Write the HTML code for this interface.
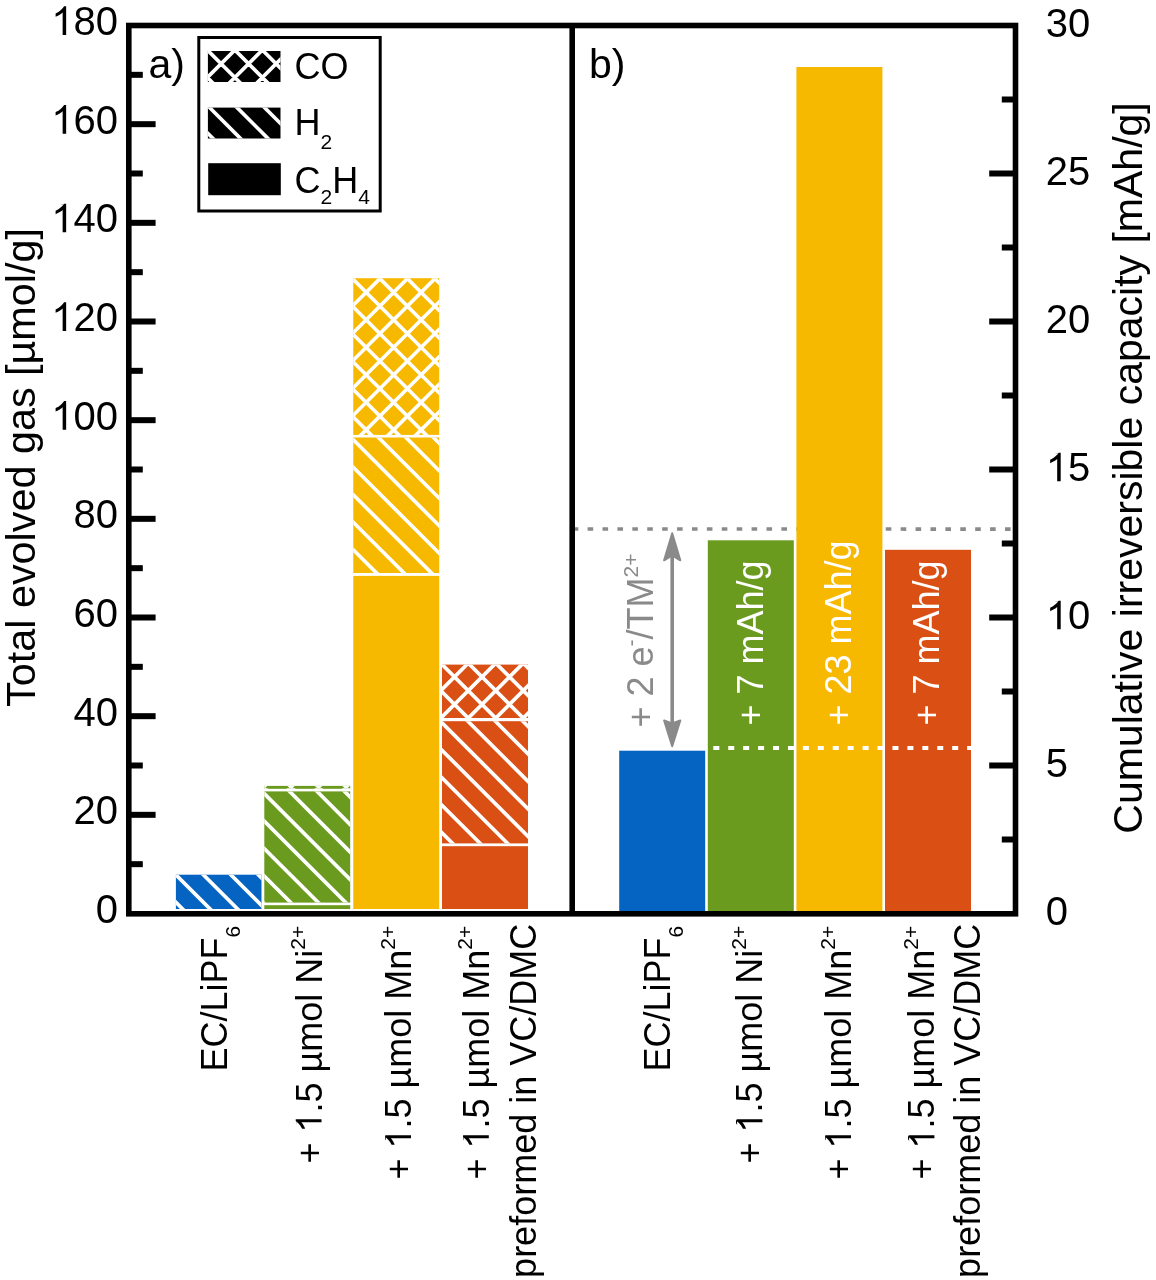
<!DOCTYPE html><html><head><meta charset="utf-8"><style>html,body{margin:0;padding:0;background:#fff;width:1156px;height:1280px;overflow:hidden;position:relative}</style></head><body><svg width="1156" height="1280" viewBox="0 0 1156 1280" style="position:absolute;left:0;top:0;will-change:transform">
<rect width="1156" height="1280" fill="#fff"/>
<line x1="572.7" y1="529.0" x2="1012" y2="529.1" stroke="#8a8a8a" stroke-width="3.6" stroke-dasharray="5.6 9.307"/>
<clipPath id="cl1"><rect x="175.90" y="874.70" width="85.60" height="34.30"/></clipPath><rect x="175.90" y="874.70" width="85.60" height="34.30" fill="#0563c1"/><path d="M88.30 869.70L132.60 914.00M115.80 869.70L160.10 914.00M143.30 869.70L187.60 914.00M170.80 869.70L215.10 914.00M198.30 869.70L242.60 914.00M225.80 869.70L270.10 914.00M253.30 869.70L297.60 914.00M280.80 869.70L325.10 914.00" stroke="#fff" stroke-width="3.7" fill="none" clip-path="url(#cl1)"/>
<clipPath id="cl2"><rect x="264.30" y="905.20" width="85.90" height="3.80"/></clipPath><rect x="264.30" y="905.20" width="85.90" height="3.80" fill="#6a9b1f"/>
<clipPath id="cl3"><rect x="264.30" y="791.40" width="85.90" height="111.20"/></clipPath><rect x="264.30" y="791.40" width="85.90" height="111.20" fill="#6a9b1f"/><path d="M119.60 786.40L240.80 907.60M147.10 786.40L268.30 907.60M174.60 786.40L295.80 907.60M202.10 786.40L323.30 907.60M229.60 786.40L350.80 907.60M257.10 786.40L378.30 907.60M284.60 786.40L405.80 907.60M312.10 786.40L433.30 907.60M339.60 786.40L460.80 907.60M367.10 786.40L488.30 907.60" stroke="#fff" stroke-width="3.7" fill="none" clip-path="url(#cl3)"/>
<clipPath id="cl4"><rect x="264.30" y="785.90" width="85.90" height="2.90"/></clipPath><rect x="264.30" y="785.90" width="85.90" height="2.90" fill="#6a9b1f"/><path d="M202.50 780.90L215.40 793.80M230.00 780.90L242.90 793.80M257.50 780.90L270.40 793.80M285.00 780.90L297.90 793.80M312.50 780.90L325.40 793.80M340.00 780.90L352.90 793.80M367.50 780.90L380.40 793.80M214.70 780.90L201.80 793.80M242.20 780.90L229.30 793.80M269.70 780.90L256.80 793.80M297.20 780.90L284.30 793.80M324.70 780.90L311.80 793.80M352.20 780.90L339.30 793.80M379.70 780.90L366.80 793.80" stroke="#fff" stroke-width="3.7" fill="none" clip-path="url(#cl4)"/>
<clipPath id="cl5"><rect x="353.30" y="575.90" width="85.90" height="333.10"/></clipPath><rect x="353.30" y="575.90" width="85.90" height="333.10" fill="#f7b800"/>
<clipPath id="cl6"><rect x="353.30" y="437.50" width="85.90" height="135.50"/></clipPath><rect x="353.30" y="437.50" width="85.90" height="135.50" fill="#f7b800"/><path d="M181.00 432.50L326.50 578.00M208.50 432.50L354.00 578.00M236.00 432.50L381.50 578.00M263.50 432.50L409.00 578.00M291.00 432.50L436.50 578.00M318.50 432.50L464.00 578.00M346.00 432.50L491.50 578.00M373.50 432.50L519.00 578.00M401.00 432.50L546.50 578.00M428.50 432.50L574.00 578.00M456.00 432.50L601.50 578.00" stroke="#fff" stroke-width="3.7" fill="none" clip-path="url(#cl6)"/>
<clipPath id="cl7"><rect x="353.30" y="278.20" width="85.90" height="156.70"/></clipPath><rect x="353.30" y="278.20" width="85.90" height="156.70" fill="#f7b800"/><path d="M154.45 273.20L321.15 439.90M181.95 273.20L348.65 439.90M209.45 273.20L376.15 439.90M236.95 273.20L403.65 439.90M264.45 273.20L431.15 439.90M291.95 273.20L458.65 439.90M319.45 273.20L486.15 439.90M346.95 273.20L513.65 439.90M374.45 273.20L541.15 439.90M401.95 273.20L568.65 439.90M429.45 273.20L596.15 439.90M456.95 273.20L623.65 439.90M330.30 273.20L163.60 439.90M357.80 273.20L191.10 439.90M385.30 273.20L218.60 439.90M412.80 273.20L246.10 439.90M440.30 273.20L273.60 439.90M467.80 273.20L301.10 439.90M495.30 273.20L328.60 439.90M522.80 273.20L356.10 439.90M550.30 273.20L383.60 439.90M577.80 273.20L411.10 439.90M605.30 273.20L438.60 439.90" stroke="#fff" stroke-width="3.7" fill="none" clip-path="url(#cl7)"/>
<clipPath id="cl8"><rect x="442.00" y="846.20" width="86.00" height="62.80"/></clipPath><rect x="442.00" y="846.20" width="86.00" height="62.80" fill="#d94f14"/>
<clipPath id="cl9"><rect x="442.00" y="721.20" width="86.00" height="122.20"/></clipPath><rect x="442.00" y="721.20" width="86.00" height="122.20" fill="#d94f14"/><path d="M270.40 716.20L402.60 848.40M297.90 716.20L430.10 848.40M325.40 716.20L457.60 848.40M352.90 716.20L485.10 848.40M380.40 716.20L512.60 848.40M407.90 716.20L540.10 848.40M435.40 716.20L567.60 848.40M462.90 716.20L595.10 848.40M490.40 716.20L622.60 848.40M517.90 716.20L650.10 848.40M545.40 716.20L677.60 848.40" stroke="#fff" stroke-width="3.7" fill="none" clip-path="url(#cl9)"/>
<clipPath id="cl10"><rect x="442.00" y="664.60" width="86.00" height="53.40"/></clipPath><rect x="442.00" y="664.60" width="86.00" height="53.40" fill="#d94f14"/><path d="M354.70 659.60L418.10 723.00M382.20 659.60L445.60 723.00M409.70 659.60L473.10 723.00M437.20 659.60L500.60 723.00M464.70 659.60L528.10 723.00M492.20 659.60L555.60 723.00M519.70 659.60L583.10 723.00M547.20 659.60L610.60 723.00M416.80 659.60L353.40 723.00M444.30 659.60L380.90 723.00M471.80 659.60L408.40 723.00M499.30 659.60L435.90 723.00M526.80 659.60L463.40 723.00M554.30 659.60L490.90 723.00M581.80 659.60L518.40 723.00M609.30 659.60L545.90 723.00" stroke="#fff" stroke-width="3.7" fill="none" clip-path="url(#cl10)"/>
<rect x="619.20" y="750.70" width="86" height="160.30" fill="#0563c1"/>
<rect x="707.80" y="540.30" width="86" height="370.70" fill="#6a9b1f"/>
<rect x="796.40" y="67.00" width="86" height="844.00" fill="#f7b800"/>
<rect x="885.00" y="549.80" width="86" height="361.20" fill="#d94f14"/>
<line x1="713.3" y1="748" x2="1012" y2="748" stroke="#fff" stroke-width="3.8" stroke-dasharray="6 8.93"/>
<line x1="672.2" y1="550" x2="672.2" y2="729" stroke="#8a8a8a" stroke-width="3.6"/>
<path d="M672.2 533.2 L680.3 560.3 L672.2 555.3 L664.1 560.3 Z" fill="#8a8a8a" stroke="#8a8a8a" stroke-width="2" stroke-linejoin="round"/>
<path d="M672.2 746.2 L680.3 720.5 L672.2 723.5 L664.1 720.5 Z" fill="#8a8a8a" stroke="#8a8a8a" stroke-width="2" stroke-linejoin="round"/>
<rect x="128.8" y="25.5" width="886.7" height="888.3" fill="none" stroke="#000" stroke-width="5.6"/>
<line x1="572.2" y1="25.5" x2="572.2" y2="913.8" stroke="#000" stroke-width="5.6"/>
<line x1="128.8" y1="864.17" x2="142.8" y2="864.17" stroke="#000" stroke-width="6"/>
<line x1="128.8" y1="814.83" x2="155.6" y2="814.83" stroke="#000" stroke-width="6"/>
<line x1="128.8" y1="765.50" x2="142.8" y2="765.50" stroke="#000" stroke-width="6"/>
<line x1="128.8" y1="716.17" x2="155.6" y2="716.17" stroke="#000" stroke-width="6"/>
<line x1="128.8" y1="666.83" x2="142.8" y2="666.83" stroke="#000" stroke-width="6"/>
<line x1="128.8" y1="617.50" x2="155.6" y2="617.50" stroke="#000" stroke-width="6"/>
<line x1="128.8" y1="568.17" x2="142.8" y2="568.17" stroke="#000" stroke-width="6"/>
<line x1="128.8" y1="518.83" x2="155.6" y2="518.83" stroke="#000" stroke-width="6"/>
<line x1="128.8" y1="469.50" x2="142.8" y2="469.50" stroke="#000" stroke-width="6"/>
<line x1="128.8" y1="420.17" x2="155.6" y2="420.17" stroke="#000" stroke-width="6"/>
<line x1="128.8" y1="370.83" x2="142.8" y2="370.83" stroke="#000" stroke-width="6"/>
<line x1="128.8" y1="321.50" x2="155.6" y2="321.50" stroke="#000" stroke-width="6"/>
<line x1="128.8" y1="272.17" x2="142.8" y2="272.17" stroke="#000" stroke-width="6"/>
<line x1="128.8" y1="222.83" x2="155.6" y2="222.83" stroke="#000" stroke-width="6"/>
<line x1="128.8" y1="173.50" x2="142.8" y2="173.50" stroke="#000" stroke-width="6"/>
<line x1="128.8" y1="124.17" x2="155.6" y2="124.17" stroke="#000" stroke-width="6"/>
<line x1="128.8" y1="74.83" x2="142.8" y2="74.83" stroke="#000" stroke-width="6"/>
<line x1="1015.5" y1="839.50" x2="1001.8" y2="839.50" stroke="#000" stroke-width="6"/>
<line x1="1015.5" y1="765.50" x2="989.2" y2="765.50" stroke="#000" stroke-width="6"/>
<line x1="1015.5" y1="691.50" x2="1001.8" y2="691.50" stroke="#000" stroke-width="6"/>
<line x1="1015.5" y1="617.50" x2="989.2" y2="617.50" stroke="#000" stroke-width="6"/>
<line x1="1015.5" y1="543.50" x2="1001.8" y2="543.50" stroke="#000" stroke-width="6"/>
<line x1="1015.5" y1="469.50" x2="989.2" y2="469.50" stroke="#000" stroke-width="6"/>
<line x1="1015.5" y1="395.50" x2="1001.8" y2="395.50" stroke="#000" stroke-width="6"/>
<line x1="1015.5" y1="321.50" x2="989.2" y2="321.50" stroke="#000" stroke-width="6"/>
<line x1="1015.5" y1="247.50" x2="1001.8" y2="247.50" stroke="#000" stroke-width="6"/>
<line x1="1015.5" y1="173.50" x2="989.2" y2="173.50" stroke="#000" stroke-width="6"/>
<line x1="1015.5" y1="99.50" x2="1001.8" y2="99.50" stroke="#000" stroke-width="6"/>
<text class="f1" x="118.0" y="923.00" font-family="Liberation Sans, sans-serif" font-size="40" text-anchor="end">0</text>
<text class="f1" x="118.0" y="824.33" font-family="Liberation Sans, sans-serif" font-size="40" text-anchor="end">20</text>
<text class="f1" x="118.0" y="725.67" font-family="Liberation Sans, sans-serif" font-size="40" text-anchor="end">40</text>
<text class="f1" x="118.0" y="627.00" font-family="Liberation Sans, sans-serif" font-size="40" text-anchor="end">60</text>
<text class="f1" x="118.0" y="528.33" font-family="Liberation Sans, sans-serif" font-size="40" text-anchor="end">80</text>
<text class="f1" x="118.0" y="429.67" font-family="Liberation Sans, sans-serif" font-size="40" text-anchor="end">100</text>
<text class="f1" x="118.0" y="331.00" font-family="Liberation Sans, sans-serif" font-size="40" text-anchor="end">120</text>
<text class="f1" x="118.0" y="232.33" font-family="Liberation Sans, sans-serif" font-size="40" text-anchor="end">140</text>
<text class="f1" x="118.0" y="133.67" font-family="Liberation Sans, sans-serif" font-size="40" text-anchor="end">160</text>
<text class="f1" x="118.0" y="35.00" font-family="Liberation Sans, sans-serif" font-size="40" text-anchor="end">180</text>
<text class="f1" x="1045.8" y="925.30" font-family="Liberation Sans, sans-serif" font-size="40">0</text>
<text class="f1" x="1045.8" y="777.30" font-family="Liberation Sans, sans-serif" font-size="40">5</text>
<text class="f1" x="1045.8" y="629.30" font-family="Liberation Sans, sans-serif" font-size="40">10</text>
<text class="f1" x="1045.8" y="481.30" font-family="Liberation Sans, sans-serif" font-size="40">15</text>
<text class="f1" x="1045.8" y="333.30" font-family="Liberation Sans, sans-serif" font-size="40">20</text>
<text class="f1" x="1045.8" y="185.30" font-family="Liberation Sans, sans-serif" font-size="40">25</text>
<text class="f1" x="1045.8" y="37.30" font-family="Liberation Sans, sans-serif" font-size="40">30</text>
<text transform="translate(35.2,706.9) rotate(-90)" font-family="Liberation Sans, sans-serif" font-size="41.35">Total evolved gas [µmol/g]</text>
<text transform="translate(1142,833.7) rotate(-90)" font-family="Liberation Sans, sans-serif" font-size="41">Cumulative irreversible capacity [mAh/g]</text>
<text x="148.5" y="78" font-family="Liberation Sans, sans-serif" font-size="41">a)</text>
<text x="589" y="78" font-family="Liberation Sans, sans-serif" font-size="41">b)</text>
<rect x="198.8" y="37.5" width="181.4" height="173.5" fill="#fff" stroke="#000" stroke-width="3"/>
<clipPath id="cl11"><rect x="207.90" y="51.00" width="72.60" height="31.00"/></clipPath><rect x="207.90" y="51.00" width="72.60" height="31.00" fill="#000"/><path d="M120.85 46.00L161.85 87.00M148.35 46.00L189.35 87.00M175.85 46.00L216.85 87.00M203.35 46.00L244.35 87.00M230.85 46.00L271.85 87.00M258.35 46.00L299.35 87.00M285.85 46.00L326.85 87.00M183.85 46.00L142.85 87.00M211.35 46.00L170.35 87.00M238.85 46.00L197.85 87.00M266.35 46.00L225.35 87.00M293.85 46.00L252.85 87.00M321.35 46.00L280.35 87.00" stroke="#fff" stroke-width="3.7" fill="none" clip-path="url(#cl11)"/>
<clipPath id="cl12"><rect x="207.90" y="107.60" width="72.60" height="30.90"/></clipPath><rect x="207.90" y="107.60" width="72.60" height="30.90" fill="#000"/><path d="M122.10 102.60L163.00 143.50M149.60 102.60L190.50 143.50M177.10 102.60L218.00 143.50M204.60 102.60L245.50 143.50M232.10 102.60L273.00 143.50M259.60 102.60L300.50 143.50M287.10 102.60L328.00 143.50" stroke="#fff" stroke-width="3.7" fill="none" clip-path="url(#cl12)"/>
<rect x="208.2" y="163.2" width="72.6" height="32" fill="#000"/>
<text x="294.6" y="79.3" font-family="Liberation Sans, sans-serif" font-size="36">CO</text>
<text x="294.5" y="134.7" font-family="Liberation Sans, sans-serif" font-size="36">H<tspan font-size="21" dy="13.8">2</tspan></text>
<text x="294.6" y="192.6" font-family="Liberation Sans, sans-serif" font-size="36">C<tspan font-size="21" dy="11">2</tspan><tspan dy="-11">H</tspan><tspan font-size="21" dy="11">4</tspan></text>
<text class="f1" transform="translate(226.50,925.8) rotate(-90)" font-family="Liberation Sans, sans-serif" font-size="36" text-anchor="end">EC/LiPF<tspan font-size="21" dy="13.2">6</tspan></text>
<text class="f1" transform="translate(321.50,925.8) rotate(-90)" font-family="Liberation Sans, sans-serif" font-size="36" text-anchor="end">+ 1.5 µmol Ni<tspan font-size="21" dy="-16.5">2+</tspan></text>
<text class="f1" transform="translate(411.00,925.8) rotate(-90)" font-family="Liberation Sans, sans-serif" font-size="36" text-anchor="end">+ 1.5 µmol Mn<tspan font-size="21" dy="-16.5">2+</tspan></text>
<text class="f1" transform="translate(488.80,925.8) rotate(-90)" font-family="Liberation Sans, sans-serif" font-size="36" text-anchor="end">+ 1.5 µmol Mn<tspan font-size="21" dy="-16.5">2+</tspan></text>
<text class="f1" transform="translate(535.60,923.8) rotate(-90)" font-family="Liberation Sans, sans-serif" font-size="36" text-anchor="end">preformed in VC/DMC</text>
<text class="f1" transform="translate(670.20,925.8) rotate(-90)" font-family="Liberation Sans, sans-serif" font-size="36" text-anchor="end">EC/LiPF<tspan font-size="21" dy="13.2">6</tspan></text>
<text class="f1" transform="translate(762.40,925.8) rotate(-90)" font-family="Liberation Sans, sans-serif" font-size="36" text-anchor="end">+ 1.5 µmol Ni<tspan font-size="21" dy="-16.5">2+</tspan></text>
<text class="f1" transform="translate(851.00,925.8) rotate(-90)" font-family="Liberation Sans, sans-serif" font-size="36" text-anchor="end">+ 1.5 µmol Mn<tspan font-size="21" dy="-16.5">2+</tspan></text>
<text class="f1" transform="translate(934.40,925.8) rotate(-90)" font-family="Liberation Sans, sans-serif" font-size="36" text-anchor="end">+ 1.5 µmol Mn<tspan font-size="21" dy="-16.5">2+</tspan></text>
<text class="f1" transform="translate(979.70,923.8) rotate(-90)" font-family="Liberation Sans, sans-serif" font-size="36" text-anchor="end">preformed in VC/DMC</text>
<text transform="translate(763.20,725.50) rotate(-90)" font-family="Liberation Sans, sans-serif" font-size="36" fill="#fff">+ 7 mAh/g</text>
<text transform="translate(850.50,725.50) rotate(-90)" font-family="Liberation Sans, sans-serif" font-size="36" fill="#fff">+ 23 mAh/g</text>
<text transform="translate(939.20,725.50) rotate(-90)" font-family="Liberation Sans, sans-serif" font-size="36" fill="#fff">+ 7 mAh/g</text>
<text transform="translate(653.00,727.60) rotate(-90)" font-family="Liberation Sans, sans-serif" font-size="36" fill="#8a8a8a">+ 2 e<tspan font-size="21" dy="-15.5">-</tspan><tspan dy="15.5">/TM</tspan><tspan font-size="21" dy="-15.5">2+</tspan></text>
<rect x="53.50" y="401.55" width="18.95" height="30.08" fill="#fff"/><path d="M66.15 429.67L62.64 429.67L62.64 407.27Q61.37 408.48 59.32 409.69Q57.29 410.90 55.61 411.51L55.61 408.11Q58.63 406.68 60.90 404.65Q63.16 402.62 64.10 401.04L66.15 401.04Z" fill="#000"/><rect x="53.50" y="302.88" width="18.95" height="30.08" fill="#fff"/><path d="M66.15 331.00L62.64 331.00L62.64 308.60Q61.37 309.81 59.32 311.02Q57.29 312.23 55.61 312.84L55.61 309.44Q58.63 308.01 60.90 305.98Q63.16 303.95 64.10 302.37L66.15 302.37Z" fill="#000"/><rect x="53.50" y="204.21" width="18.95" height="30.08" fill="#fff"/><path d="M66.15 232.33L62.64 232.33L62.64 209.93Q61.37 211.14 59.32 212.35Q57.29 213.56 55.61 214.17L55.61 210.77Q58.63 209.34 60.90 207.31Q63.16 205.28 64.10 203.70L66.15 203.70Z" fill="#000"/><rect x="53.50" y="105.54" width="18.95" height="30.08" fill="#fff"/><path d="M66.15 133.67L62.64 133.67L62.64 111.27Q61.37 112.48 59.32 113.69Q57.29 114.90 55.61 115.51L55.61 112.11Q58.63 110.68 60.90 108.65Q63.16 106.62 64.10 105.04L66.15 105.04Z" fill="#000"/><rect x="53.50" y="6.88" width="18.95" height="30.08" fill="#fff"/><path d="M66.15 35.00L62.64 35.00L62.64 12.60Q61.37 13.81 59.32 15.02Q57.29 16.23 55.61 16.84L55.61 13.44Q58.63 12.01 60.90 9.98Q63.16 7.95 64.10 6.37L66.15 6.37Z" fill="#000"/><rect x="1048.05" y="601.17" width="18.95" height="30.08" fill="#fff"/><path d="M1060.70 629.30L1057.19 629.30L1057.19 606.90Q1055.92 608.11 1053.87 609.32Q1051.84 610.53 1050.16 611.14L1050.16 607.74Q1053.18 606.31 1055.45 604.28Q1057.71 602.25 1058.65 600.67L1060.70 600.67Z" fill="#000"/><rect x="1048.05" y="453.17" width="18.95" height="30.08" fill="#fff"/><path d="M1060.70 481.30L1057.19 481.30L1057.19 458.90Q1055.92 460.11 1053.87 461.32Q1051.84 462.53 1050.16 463.14L1050.16 459.74Q1053.18 458.31 1055.45 456.28Q1057.71 454.25 1058.65 452.67L1060.70 452.67Z" fill="#000"/><g transform="translate(321.50,925.8) rotate(-90)"><rect x="-204.74" y="-25.31" width="17.05" height="27.07" fill="#fff"/><path d="M-193.35 0.00L-196.52 0.00L-196.52 -20.16Q-197.66 -19.07 -199.51 -17.98Q-201.33 -16.89 -202.85 -16.35L-202.85 -19.41Q-200.12 -20.69 -198.08 -22.52Q-196.04 -24.35 -195.20 -25.77L-193.35 -25.77Z" fill="#000"/></g><g transform="translate(411.00,925.8) rotate(-90)"><rect x="-220.76" y="-25.31" width="17.05" height="27.07" fill="#fff"/><path d="M-209.37 0.00L-212.53 0.00L-212.53 -20.16Q-213.68 -19.07 -215.52 -17.98Q-217.35 -16.89 -218.86 -16.35L-218.86 -19.41Q-216.14 -20.69 -214.10 -22.52Q-212.06 -24.35 -211.21 -25.77L-209.37 -25.77Z" fill="#000"/></g><g transform="translate(488.80,925.8) rotate(-90)"><rect x="-220.76" y="-25.31" width="17.05" height="27.07" fill="#fff"/><path d="M-209.37 0.00L-212.53 0.00L-212.53 -20.16Q-213.68 -19.07 -215.52 -17.98Q-217.35 -16.89 -218.86 -16.35L-218.86 -19.41Q-216.14 -20.69 -214.10 -22.52Q-212.06 -24.35 -211.21 -25.77L-209.37 -25.77Z" fill="#000"/></g><g transform="translate(762.40,925.8) rotate(-90)"><rect x="-204.74" y="-25.31" width="17.05" height="27.07" fill="#fff"/><path d="M-193.35 0.00L-196.52 0.00L-196.52 -20.16Q-197.66 -19.07 -199.51 -17.98Q-201.33 -16.89 -202.85 -16.35L-202.85 -19.41Q-200.12 -20.69 -198.08 -22.52Q-196.04 -24.35 -195.20 -25.77L-193.35 -25.77Z" fill="#000"/></g><g transform="translate(851.00,925.8) rotate(-90)"><rect x="-220.76" y="-25.31" width="17.05" height="27.07" fill="#fff"/><path d="M-209.37 0.00L-212.53 0.00L-212.53 -20.16Q-213.68 -19.07 -215.52 -17.98Q-217.35 -16.89 -218.86 -16.35L-218.86 -19.41Q-216.14 -20.69 -214.10 -22.52Q-212.06 -24.35 -211.21 -25.77L-209.37 -25.77Z" fill="#000"/></g><g transform="translate(934.40,925.8) rotate(-90)"><rect x="-220.76" y="-25.31" width="17.05" height="27.07" fill="#fff"/><path d="M-209.37 0.00L-212.53 0.00L-212.53 -20.16Q-213.68 -19.07 -215.52 -17.98Q-217.35 -16.89 -218.86 -16.35L-218.86 -19.41Q-216.14 -20.69 -214.10 -22.52Q-212.06 -24.35 -211.21 -25.77L-209.37 -25.77Z" fill="#000"/></g></svg></body></html>
